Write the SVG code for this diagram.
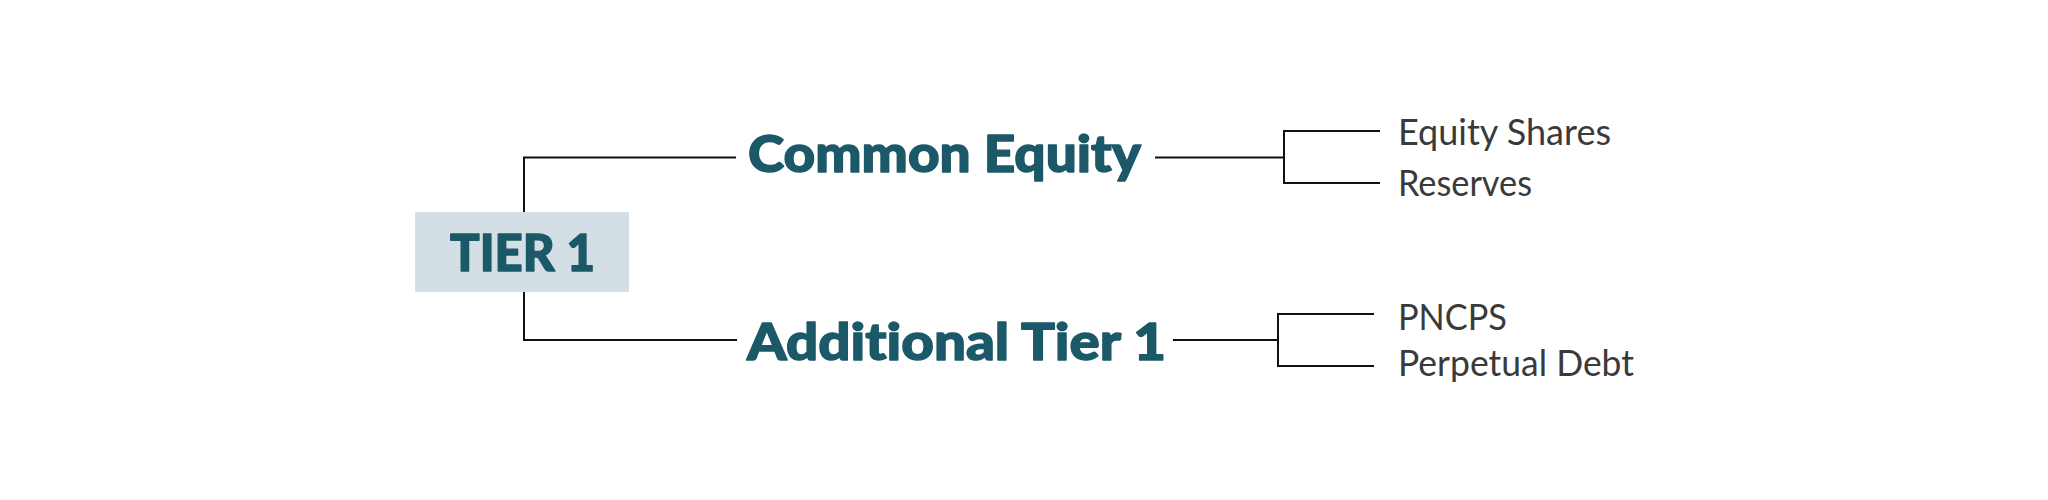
<svg xmlns="http://www.w3.org/2000/svg" width="2048" height="500" viewBox="0 0 2048 500">
<style>
.bg{fill:#ffffff}
.box{fill:#d3dfe4}
.title{font-family:Lato,"Liberation Sans",sans-serif;font-weight:900;fill:#1b5868;stroke:#1b5868;stroke-width:1.4;stroke-linejoin:round;font-variant-ligatures:none}
.leaf{font-family:Lato,"Liberation Sans",sans-serif;font-weight:400;fill:#3a3a3a;font-size:36px;font-variant-ligatures:none}
.conn{fill:none;stroke:#111111;stroke-width:2}
</style>
<rect class="bg" x="0" y="0" width="2048" height="500"/>
<g id="connectors">
<path class="conn" d="M524 212 V157.5 H736"/>
<path class="conn" d="M524 292 V340 H737"/>
<path class="conn" d="M1155 157.5 H1284"/>
<path class="conn" d="M1380 131 H1284 V183 H1380"/>
<path class="conn" d="M1173 340 H1278"/>
<path class="conn" d="M1374 314 H1278 V366 H1374"/>
</g>
<g id="tier1">
<rect class="box" x="415" y="212" width="214" height="80"/>
<text class="title" x="450" y="271" font-size="51" textLength="145" lengthAdjust="spacingAndGlyphs">TIER 1</text>
</g>
<g id="common-equity">
<text class="title" x="748" y="171.5" font-size="51" textLength="393" lengthAdjust="spacingAndGlyphs">Common Equity</text>
</g>
<g id="additional-tier1">
<text class="title" x="747" y="359.5" font-size="51" textLength="419" lengthAdjust="spacingAndGlyphs">Additional Tier 1</text>
</g>
<g id="equity-shares">
<text class="leaf" x="1398" y="144.5" textLength="213" lengthAdjust="spacingAndGlyphs">Equity Shares</text>
</g>
<g id="reserves">
<text class="leaf" x="1398" y="196" textLength="134" lengthAdjust="spacingAndGlyphs">Reserves</text>
</g>
<g id="pncps">
<text class="leaf" x="1398" y="330" textLength="109" lengthAdjust="spacingAndGlyphs">PNCPS</text>
</g>
<g id="perpetual-debt">
<text class="leaf" x="1398" y="376" textLength="236" lengthAdjust="spacingAndGlyphs">Perpetual Debt</text>
</g>
</svg>
